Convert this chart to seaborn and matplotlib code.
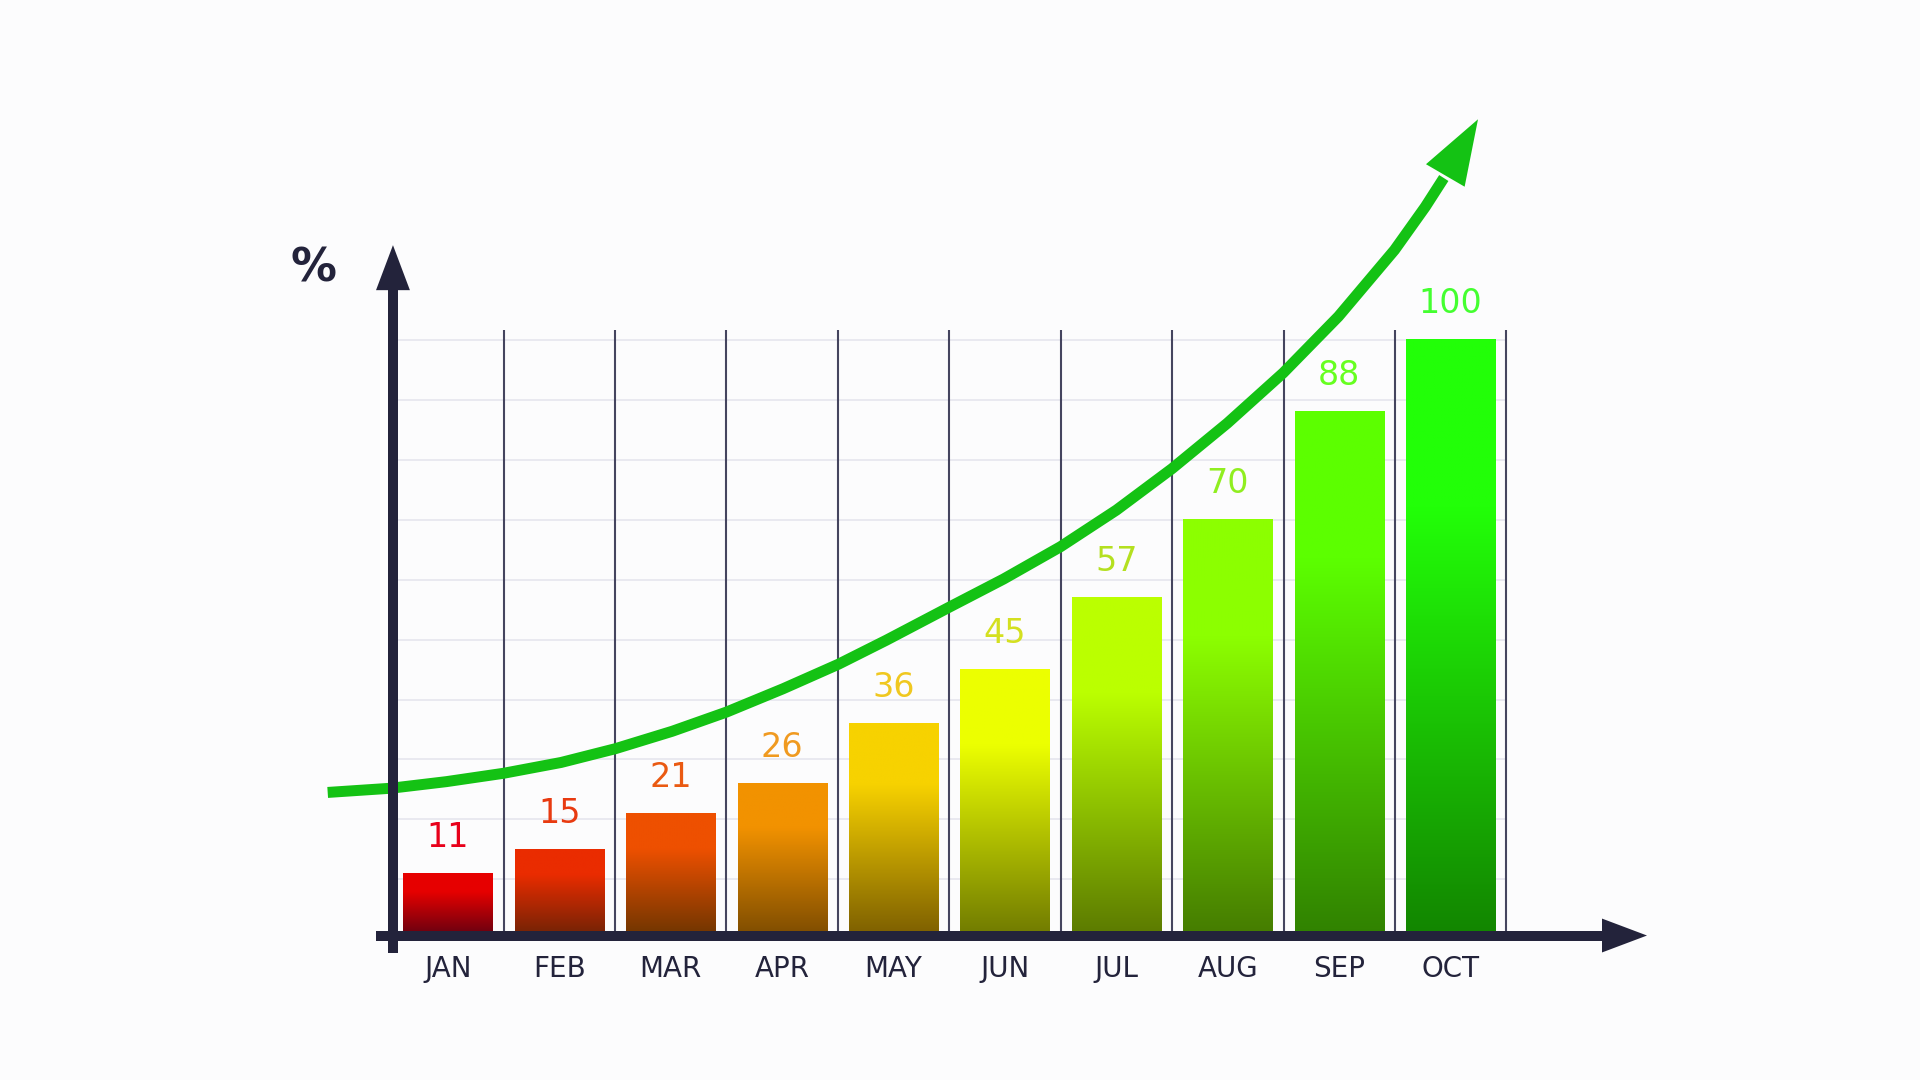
import numpy as np
import matplotlib.pyplot as plt
import seaborn as sns
from matplotlib.colors import to_rgb

sns.set_style("white")
plt.rcParams["font.family"] = ["DejaVu Sans"]

# data
months = ["JAN", "FEB", "MAR", "APR", "MAY", "JUN", "JUL", "AUG", "SEP", "OCT"]
values = [11, 15, 21, 26, 36, 45, 57, 70, 88, 100]

top_colors = ["#e60000", "#ea2c00", "#ee5000", "#f29200", "#f7d200",
              "#ecff00", "#bbff00", "#8cff00", "#5cff00", "#22ff08"]
bottom_colors = ["#5c0012", "#6a2206", "#6a3400", "#7a4a00", "#7a5c00",
                 "#6e7800", "#5a7800", "#447a00", "#308000", "#128400"]
label_colors = ["#e8001a", "#e83a10", "#ea5a12", "#f09a20", "#f0c820",
                "#d4e020", "#b4e020", "#90ee20", "#66ff20", "#44ff30"]

# green trend arrow (x in bar slots, y in %)
trend_x = [-1.080, -0.513, -0.015, 0.500, 1.015, 1.503, 2.012, 2.499, 3.008,
           3.506, 3.935, 4.499, 4.987, 5.499, 6.000, 6.498, 6.996, 7.498,
           7.993, 8.497, 8.773, 8.939]
trend_y = [24.5, 25.2, 26.3, 27.7, 29.5, 31.8, 34.7, 37.9, 41.8,
           45.9, 49.9, 55.4, 60.1, 65.5, 71.6, 78.5, 86.1, 94.5,
           103.9, 115.0, 122.2, 127.0]
trend_tip = (9.246, 136.8)

grid_levels = [10, 20, 30, 40, 50, 60, 70, 80, 90, 100]

navy = "#23233b"
green = "#14c214"
bg = "#fcfcfd"

fig = plt.figure(figsize=(19.2, 10.8), dpi=100, facecolor=bg)
ax = fig.add_axes([0, 0.125, 1, 0.875])
ax.set_facecolor(bg)

# faint horizontal grid and the thin slot separators
ax.hlines(grid_levels, -0.5, 9.5, color="#e6e6ee", lw=1.2, zorder=0.5)
ax.vlines(np.arange(len(months)) + 0.5, 0.6, 101.6, color="#45455f", lw=1.5, zorder=1)

# bars, filled with a vertical gradient
sns.barplot(x=months, y=values, color="red", width=0.8, ax=ax, zorder=1)
for i, bar in enumerate(ax.patches):
    x0, w, h = bar.get_x(), bar.get_width(), bar.get_height()
    bar.set_facecolor("none")
    bar.set_edgecolor("none")
    t = np.linspace(0, 1, 256)
    mix = np.clip(t / 0.72, 0, 1)[:, None]
    top = np.array(to_rgb(top_colors[i]))
    bot = np.array(to_rgb(bottom_colors[i]))
    grad = bot + (top - bot) * mix
    ax.imshow(grad[:, None, :], extent=[x0, x0 + w, 0, h], origin="lower",
              aspect="auto", interpolation="bilinear", zorder=1.5)
    ax.annotate(str(values[i]), (i, h), xytext=(0, 19), textcoords="offset points",
                ha="center", va="baseline", fontsize=24, color=label_colors[i], zorder=3)

# trend curve with arrow head
sns.lineplot(x=trend_x, y=trend_y, ax=ax, color=green, lw=7.9, sort=False,
             solid_capstyle="butt", solid_joinstyle="round", zorder=4)
ax.annotate("", xy=trend_tip, xytext=(trend_x[-1], trend_y[-1]),
            arrowprops=dict(arrowstyle="-|>,head_length=46.8,head_width=16.1",
                            mutation_scale=1, color=green, lw=0,
                            shrinkA=0, shrinkB=0), zorder=4)

# axes drawn as arrows
ax.plot([-0.494, -0.494], [-2.28, 108.3], color=navy, lw=7.2,
        solid_capstyle="butt", clip_on=False, zorder=5)
ax.annotate("", xy=(-0.494, 115.8), xytext=(-0.494, 108.3),
            arrowprops=dict(arrowstyle="-|>,head_length=32.4,head_width=12.2",
                            mutation_scale=1, color=navy, lw=0,
                            shrinkA=0, shrinkB=0), zorder=5)
ax.plot([-0.649, 10.36], [0.63, 0.63], color=navy, lw=7.2,
        solid_capstyle="butt", zorder=5)
ax.annotate("", xy=(10.763, 0.63), xytext=(10.36, 0.63),
            arrowprops=dict(arrowstyle="-|>,head_length=32.4,head_width=12.2",
                            mutation_scale=1, color=navy, lw=0,
                            shrinkA=0, shrinkB=0), zorder=5)

ax.text(-1.207, 111.8, "%", ha="center", va="center", fontsize=33,
        fontweight="bold", color=navy)

ax.set_xticks(range(len(months)))
ax.set_xticklabels(months)
ax.tick_params(axis="x", length=0, pad=7, labelsize=20, labelcolor=navy)
ax.set_yticks([])
ax.set_xlabel("")
ax.set_ylabel("")
sns.despine(ax=ax, left=True, bottom=True)

ax.set_xlim(-4.0215, 13.2136)
ax.set_ylim(-0.951, 156.7)

fig.savefig("out.png", dpi=100, facecolor=bg)
